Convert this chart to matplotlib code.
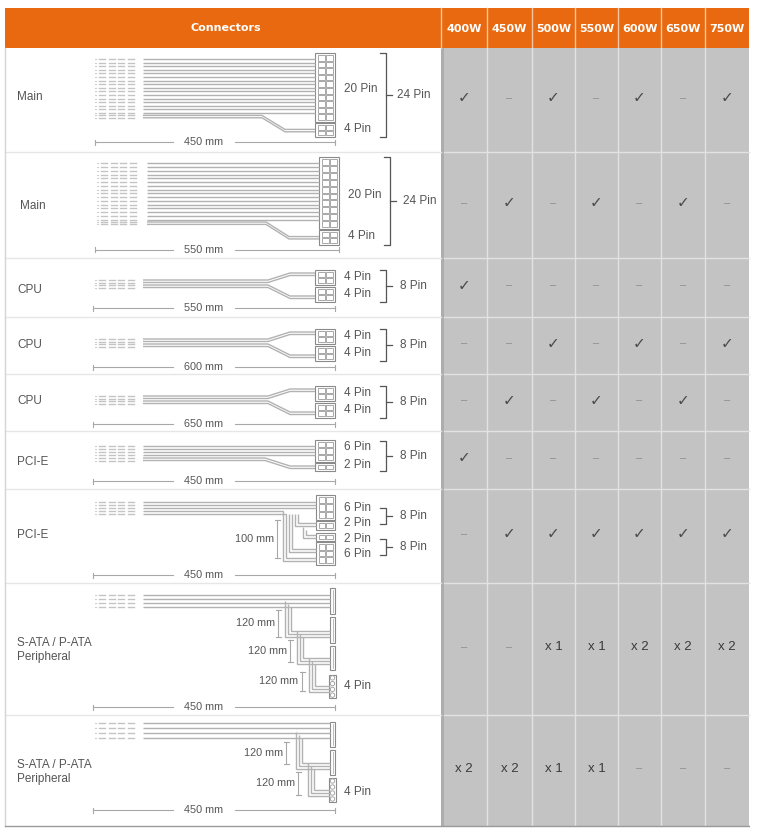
import numpy as np
import matplotlib.pyplot as plt
from matplotlib.patches import Rectangle, Circle

# table content
powers = ['400W', '450W', '500W', '550W', '600W', '650W', '750W']
row_names = ['Main', 'Main', 'CPU', 'CPU', 'CPU', 'PCI-E', 'PCI-E',
             'S-ATA / P-ATA\nPeripheral', 'S-ATA / P-ATA\nPeripheral']
cable_mm = [450, 550, 550, 600, 650, 450, 450, 450, 450]
cells = [
    ['✓', '–', '✓', '–', '✓', '–', '✓'],
    ['–', '✓', '–', '✓', '–', '✓', '–'],
    ['✓', '–', '–', '–', '–', '–', '–'],
    ['–', '–', '✓', '–', '✓', '–', '✓'],
    ['–', '✓', '–', '✓', '–', '✓', '–'],
    ['✓', '–', '–', '–', '–', '–', '–'],
    ['–', '✓', '✓', '✓', '✓', '✓', '✓'],
    ['–', '–', 'x 1', 'x 1', 'x 2', 'x 2', 'x 2'],
    ['x 2', 'x 2', 'x 1', 'x 1', '–', '–', '–'],
]

# layout (pixels)
row_edges = [48, 152, 258, 317, 374, 431, 489, 583, 715, 826]
col_edges = [441, 487, 532, 575, 618, 661, 705, 749]

ORANGE = '#e8690f'
GRAY = '#c3c3c3'
WIRE = '#b2b2b2'
LINE = '#8a8a8a'
TXT = '#555555'
FONT = 'Liberation Sans'

fig = plt.figure(figsize=(7.64, 8.32), dpi=100)
ax = fig.add_axes([0, 0, 1, 1])
ax.set_xlim(0, 764)
ax.set_ylim(832, 0)
ax.axis('off')


def wire(pts, top, lw=1.0):
    ax.plot([p[0] for p in pts], [top + p[1] for p in pts], color=WIRE, lw=lw,
            solid_capstyle='butt', solid_joinstyle='miter')


def stubs(ys, top, x0=95):
    for y in ys:
        ax.plot([x0, x0 + 1.2], [top + y] * 2, color='#cfcfcf', lw=0.8)
        for k in range(4):
            ax.plot([x0 + 4 + 9.5 * k, x0 + 10 + 9.5 * k], [top + y] * 2, color='#c4c4c4', lw=1.0)


def conn(x0, x1, y0, y1, nrows, ncols=2):
    ax.add_patch(Rectangle((x0, y0), x1 - x0, y1 - y0, fc='white', ec=LINE, lw=0.8))
    cw = (x1 - x0 - 4) / ncols
    ch = (y1 - y0 - 3) / nrows
    for r in range(nrows):
        for c in range(ncols):
            ax.add_patch(Rectangle((x0 + 2 + c * cw + 0.5, y0 + 1.5 + r * ch + 0.5),
                                   cw - 1.0, ch - 1.0, fc='white', ec='#9a9a9a', lw=0.6))


def label(x, y, s, size=8.5, ha='left'):
    ax.text(x, y, s, ha=ha, va='center', fontsize=size, color=TXT, family=FONT)


def bracket(x, y0, y1, s, tx):
    ax.plot([x - 6, x, x, x - 6], [y0, y0, y1, y1], color='#555555', lw=0.9)
    ym = (y0 + y1) / 2
    ax.plot([x, x + 6], [ym, ym], color='#555555', lw=0.9)
    label(tx, ym, s)


def dim_h(x0, x1, y, s, xc=204):
    ax.plot([x0, xc - 31], [y, y], color='#a8a8a8', lw=0.8)
    ax.plot([xc + 31, x1], [y, y], color='#a8a8a8', lw=0.8)
    for x in (x0, x1):
        ax.plot([x, x], [y - 2.5, y + 2.5], color='#a8a8a8', lw=0.8)
    label(xc, y, s, size=7.8, ha='center')


def dim_v(x, y0, y1, s, xr):
    ax.plot([x, x], [y0, y1], color='#a8a8a8', lw=0.8)
    for y in (y0, y1):
        ax.plot([x - 2.5, x + 2.5], [y, y], color='#a8a8a8', lw=0.8)
    label(xr, (y0 + y1) / 2, s, size=7.8, ha='right')


def main_cable(top, dx, sy, mm):
    ys = [11 * sy + 3.6 * sy * i for i in range(16)]
    stubs(ys + [ys[-1] + 2.4, ys[-1] + 4.8], top, 95 + dx * 0.5)
    for y in ys:
        wire([(143 + dx, y), (315 + dx, y)], top)
    for y in (ys[-1] + 2.4, ys[-1] + 4.8):
        wire([(143 + dx, y), (262 + dx, y), (285 + dx, y + 14 * sy), (315 + dx, y + 14 * sy)], top)
    conn(315 + dx, 335 + dx, top + 5 * sy, top + 74 * sy, 10)
    conn(315 + dx, 335 + dx, top + 75 * sy, top + 89 * sy, 2)
    label(344 + dx, top + 41 * sy, '20 Pin')
    label(344 + dx, top + 81 * sy, '4 Pin')
    bracket(386 + dx, top + 5 * sy, top + 89 * sy, '24 Pin', 397 + dx * 1.5)
    dim_h(95, 335 + dx, top + 94 * sy, f'{mm} mm')


def cpu_cable(top, mm):
    ys = [22, 24.5, 27, 29.5]
    stubs(ys, top)
    for y in ys[:2]:
        wire([(143, y), (268, y), (290, y - 7), (315, y - 7)], top)
    for y in ys[2:]:
        wire([(143, y), (268, y), (290, y + 11), (315, y + 11)], top)
    conn(315, 335, top + 12, top + 27, 2)
    conn(315, 335, top + 29, top + 44, 2)
    label(344, top + 19, '4 Pin')
    label(344, top + 36, '4 Pin')
    bracket(386, top + 12, top + 44, '8 Pin', 400)
    dim_h(93, 335, top + 50, f'{mm} mm')


def pcie_cable(top, mm):
    ys = [15, 18, 21, 24, 27, 29.5]
    stubs(ys, top)
    for y in ys[:4]:
        wire([(143, y), (315, y)], top)
    for y in ys[4:]:
        wire([(143, y), (265, y), (290, y + 8), (315, y + 8)], top)
    conn(315, 335, top + 9, top + 31, 3)
    conn(315, 335, top + 32, top + 40, 1)
    label(344, top + 16, '6 Pin')
    label(344, top + 34, '2 Pin')
    bracket(386, top + 10, top + 40, '8 Pin', 400)
    dim_h(93, 335, top + 50, f'{mm} mm')


def pcie_dual_cable(top, mm):
    ys = [13, 16, 19, 22, 25]
    stubs(ys, top)
    for y in ys[:3]:
        wire([(143, y), (316, y)], top)
    wire([(143, 22), (283, 22), (283, 72), (316, 72)], top)
    wire([(143, 25), (286, 25), (286, 69), (316, 69)], top)
    wire([(289, 25), (289, 63), (316, 63)], top)
    wire([(292, 25), (292, 60), (316, 60)], top)
    wire([(295, 25), (295, 37), (316, 37)], top)
    wire([(298, 25), (298, 34), (316, 34)], top)
    wire([(303, 38), (303, 49), (316, 49)], top)
    wire([(306, 41), (306, 46), (316, 46)], top)
    conn(316, 335, top + 6, top + 31, 3)
    conn(316, 335, top + 32, top + 41, 1)
    conn(316, 335, top + 44, top + 52, 1)
    conn(316, 335, top + 53, top + 76, 3)
    label(344, top + 19, '6 Pin')
    label(344, top + 34, '2 Pin')
    label(344, top + 50, '2 Pin')
    label(344, top + 65, '6 Pin')
    bracket(386, top + 19, top + 35, '8 Pin', 400)
    bracket(386, top + 50, top + 66, '8 Pin', 400)
    dim_v(277, top + 31, top + 69, '100 mm', 274)
    dim_h(93, 335, top + 86, f'{mm} mm')


def sata_cable(top, wys, conns, bus_x, dims, pin_y, dim_y, mm):
    stubs(wys, top)
    for y in wys:
        wire([(143, y), (330, y)], top)
    prev = [wys[-1] - 6, wys[-1] - 3, wys[-1]]
    for (c0, c1), bx in zip(conns[1:], bus_x):
        hs = [c1 - 6 - 3 * j for j in range(3)]
        for j in range(3):
            wire([(bx + 3 * j, prev[j]), (bx + 3 * j, hs[j]), (330, hs[j])], top)
        prev = hs[::-1]
    for c0, c1 in conns[:-1]:
        ax.add_patch(Rectangle((330, top + c0), 5, c1 - c0, fc='white', ec=LINE, lw=0.8))
        ax.plot([332.5, 332.5], [top + c0 + 2, top + c1 - 2], color='#b0b0b0', lw=0.6)
    c0, c1 = conns[-1]
    ax.add_patch(Rectangle((329, top + c0), 7, c1 - c0, fc='white', ec=LINE, lw=0.8))
    for k in range(4):
        ax.add_patch(Circle((332.5, top + c0 + (c1 - c0) * (k + 0.5) / 4), 2.2,
                            fc='white', ec='#9a9a9a', lw=0.6))
    for x, y0, y1, xr in dims:
        dim_v(x, top + y0, top + y1, '120 mm', xr)
    label(344, top + pin_y, '4 Pin')
    dim_h(93, 335, top + dim_y, f'{mm} mm')


# header
ax.add_patch(Rectangle((5, 8), 744, 40, color=ORANGE, lw=0))
ax.text(226, 28, 'Connectors', ha='center', va='center', color='white',
        fontsize=8, fontweight='bold', family='DejaVu Sans')
for i, p in enumerate(powers):
    ax.text((col_edges[i] + col_edges[i + 1]) / 2, 29, p, ha='center', va='center',
            color='white', fontsize=8, fontweight='bold', family='DejaVu Sans')
for x in col_edges[:-1]:
    ax.plot([x, x], [8, 48], color='#f6c6a2', lw=1)

# body background
ax.add_patch(Rectangle((441, 48), 308, 778, color=GRAY, lw=0))
ax.add_patch(Rectangle((441, 48), 3, 778, color='#adadad', lw=0))
for x in col_edges[1:-1]:
    ax.plot([x, x], [48, 826], color='#e2e2e2', lw=1)
for y in row_edges[1:-1]:
    ax.plot([5, 441], [y, y], color='#e6e6e6', lw=1)
    ax.plot([444, 749], [y, y], color='#e2e2e2', lw=1)
ax.plot([5, 5], [48, 826], color='#d4d4d4', lw=1)
ax.plot([5, 749], [826, 826], color='#9a9a9a', lw=1)

# row labels and cell values
label_y = [97, 206, 290, 345, 401, 462, 535, 650, 772]
for r, name in enumerate(row_names):
    label(20 if r == 1 else 17, label_y[r], name, size=8.5)
    ym = (row_edges[r] + row_edges[r + 1]) / 2 - 2
    for c, v in enumerate(cells[r]):
        xc = (col_edges[c] + col_edges[c + 1]) / 2
        if v == '✓':
            ax.text(xc, ym, v, ha='center', va='center', fontsize=11, color='#4a4a4a',
                    family='DejaVu Sans')
        elif v == '–':
            ax.text(xc, ym, v, ha='center', va='center', fontsize=8, color='#8c8c8c',
                    family=FONT)
        else:
            ax.text(xc, ym, v, ha='center', va='center', fontsize=9.5, color='#3a3a3a',
                    family=FONT)

# cable drawings
main_cable(row_edges[0], 0, 1.0, cable_mm[0])
main_cable(row_edges[1], 4, 1.04, cable_mm[1])
for r in (2, 3, 4):
    cpu_cable(row_edges[r], cable_mm[r])
pcie_cable(row_edges[5], cable_mm[5])
pcie_dual_cable(row_edges[6], cable_mm[6])
sata_cable(row_edges[7], [12, 16, 20, 24], [(5, 31), (34, 60), (63, 87), (92, 115)],
           [285, 297, 309], [(278, 27, 54, 275), (290, 57, 79, 287), (302, 89, 108, 298)],
           103, 124, cable_mm[7])
sata_cable(row_edges[8], [8, 13, 18, 23], [(7, 32), (35, 60), (63, 87)],
           [296, 308], [(286, 27, 49, 283), (298, 57, 80, 295)],
           77, 95, cable_mm[8])

fig.savefig('out.png', dpi=100, facecolor='white')
